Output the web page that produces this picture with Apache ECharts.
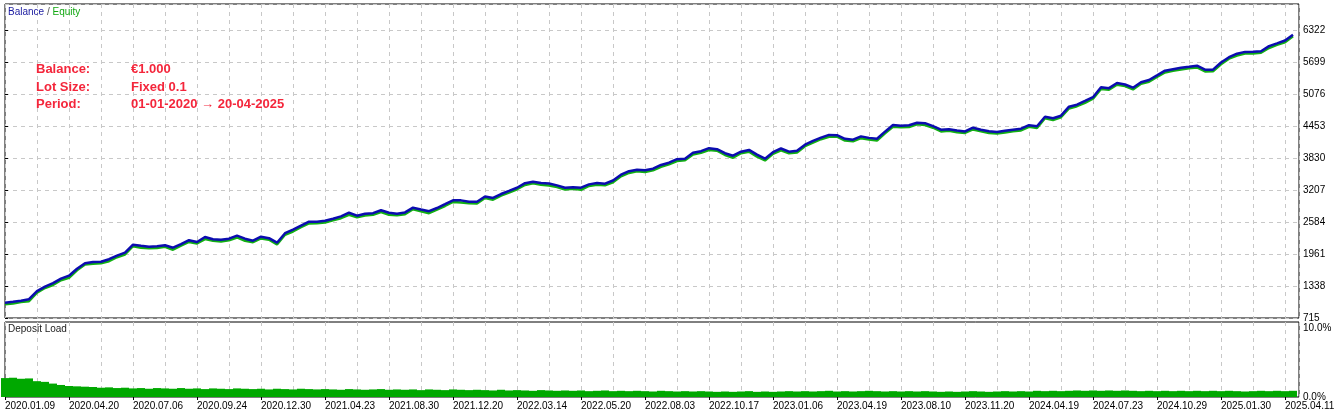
<!DOCTYPE html>
<html><head><meta charset="utf-8">
<script src="https://cdn.jsdelivr.net/npm/echarts@6/dist/echarts.min.js"></script>
<style>html,body{margin:0;padding:0;background:#fff}#c{width:1343px;height:415px}</style>
</head><body><div id="c"></div>
<script>
const dateLabels = ['2020.01.09','2020.04.20','2020.07.06','2020.09.24','2020.12.30','2021.04.23','2021.08.30','2021.12.20','2022.03.14','2022.05.20','2022.08.03','2022.10.17','2023.01.06','2023.04.19','2023.08.10','2023.11.20','2024.04.19','2024.07.23','2024.10.29','2025.01.30','2025.04.11'];

const balance = [1014,1033,1053,1082,1238,1326,1394,1482,1541,1677,
1785,1808,1814,1863,1931,1990,2146,2126,2107,2117,
2136,2087,2156,2234,2199,2296,2253,2243,2263,2322,
2263,2224,2302,2273,2185,2370,2439,2517,2595,2595,
2614,2653,2698,2770,2712,2751,2761,2819,2770,2751,
2776,2868,2833,2800,2862,2936,3011,3011,2985,2985,
3087,3059,3135,3196,3258,3346,3376,3350,3342,3303,
3258,3268,3258,3323,3350,3337,3399,3512,3581,3610,
3600,3629,3702,3746,3815,3825,3942,3971,4030,4010,
3932,3883,3961,3996,3903,3825,3951,4024,3961,3981,
4098,4172,4235,4289,4283,4213,4195,4260,4231,4215,
4352,4482,4469,4478,4527,4518,4459,4391,4400,4377,
4357,4430,4391,4361,4344,4371,4391,4410,4478,4459,
4644,4615,4664,4840,4879,4951,5025,5220,5201,5302,
5273,5211,5318,5361,5451,5542,5572,5601,5620,5640,
5562,5562,5702,5806,5874,5909,5913,5923,6021,6075,
6132,6245];

const equity = [984,998,1028,1042,1208,1301,1359,1452,1501,1647,
1760,1773,1784,1823,1901,1955,2116,2086,2077,2082,
2106,2047,2126,2199,2169,2256,2223,2208,2233,2287,
2223,2194,2267,2243,2150,2340,2404,2487,2560,2565,
2579,2623,2663,2730,2682,2716,2731,2784,2730,2721,
2741,2838,2798,2760,2832,2901,2981,2971,2955,2950,
3057,3024,3105,3161,3228,3311,3346,3315,3302,3273,
3223,3238,3218,3293,3315,3307,3364,3482,3546,3580,
3565,3599,3667,3716,3780,3795,3907,3941,3995,3980,
3897,3843,3931,3961,3863,3790,3921,3989,3931,3946,
4068,4137,4205,4254,4253,4178,4165,4225,4201,4180,
4322,4447,4439,4443,4497,4483,4429,4356,4370,4342,
4327,4395,4361,4326,4314,4336,4361,4375,4448,4424,
4614,4580,4634,4805,4849,4916,4995,5185,5171,5267,
5243,5176,5288,5326,5421,5507,5542,5566,5590,5605,
5527,5532,5667,5776,5839,5879,5878,5893,5986,6045,
6097,6215];

const depositLoad = [2.75,2.8,2.65,2.7,2.3,2.2,1.95,1.75,1.6,1.55,
1.5,1.45,1.35,1.4,1.3,1.35,1.25,1.3,1.2,1.3,
1.25,1.2,1.3,1.2,1.25,1.15,1.25,1.2,1.15,1.25,
1.2,1.15,1.2,1.1,1.2,1.15,1.1,1.2,1.15,1.1,
1.15,1.1,1.05,1.15,1.1,1.05,1.1,1.15,1.05,1.1,
1.05,1.1,1.0,1.1,1.05,1.0,1.1,1.05,1.0,1.05,
1.0,0.95,1.05,0.95,1.0,0.95,0.9,1.0,0.95,0.9,
0.95,0.9,0.95,0.85,0.9,0.95,0.85,0.9,0.85,0.9,
0.85,0.8,0.9,0.85,0.8,0.85,0.8,0.85,0.8,0.75,
0.8,0.75,0.8,0.85,0.75,0.8,0.75,0.8,0.85,0.8,
0.85,0.8,0.85,0.9,0.8,0.85,0.8,0.85,0.9,0.85,
0.8,0.85,0.8,0.85,0.8,0.85,0.8,0.75,0.8,0.75,
0.8,0.85,0.8,0.75,0.8,0.85,0.8,0.85,0.8,0.9,
0.85,0.9,0.85,0.9,0.95,0.9,0.95,0.9,0.95,0.9,
0.95,0.9,0.85,0.9,0.85,0.9,0.85,0.9,0.85,0.9,
0.85,0.9,0.85,0.9,0.85,0.8,0.85,0.9,0.85,0.9,
0.85,0.9];

const balanceTickStart = 715, balanceTickStep = 623, balanceMax = 6844;
const loadMax = 10.9, loadTickStep = 10;
const samplesPerLabel = 8, sampleMax = 161.75;

const infoLines = [['Balance:', '€1.000'], ['Lot Size:', 'Fixed 0.1'], ['Period:', '01-01-2020 → 20-04-2025']];

const FONT = '"Liberation Sans", Arial, sans-serif';
const INFO_FONT = 'bold 13px "Liberation Sans", "DejaVu Sans", sans-serif';
const dashed = { show: true, lineStyle: { color: '#c8c8c8', type: [4, 4], width: 1 } };

const chart = echarts.init(document.getElementById('c'), null, { renderer: 'canvas' });

const xCommon = {
  type: 'value', min: 0, max: sampleMax, interval: samplesPerLabel,
  splitLine: dashed,
  minorTick: { show: false, splitNumber: 2 },
  minorSplitLine: dashed,
  axisLine: { show: false }
};

const graphics = [
  { type: 'text', left: 8, top: 7, z: 10, style: {
      text: '{b|Balance} {s|/} {e|Equity}',
      font: '10px ' + FONT,
      rich: { b: { fill: '#1a1aa0', font: '10px ' + FONT }, s: { fill: '#555', font: '10px ' + FONT }, e: { fill: '#13a813', font: '10px ' + FONT } }
  }},
  { type: 'text', left: 8, top: 324, z: 10, style: { text: 'Deposit Load', font: '10px ' + FONT, fill: '#222' } }
];
infoLines.forEach((ln, i) => {
  graphics.push({ type: 'text', left: 36, top: 63 + i * 17.5, z: 10, style: { text: ln[0], font: INFO_FONT, fill: '#f4263b' } });
  graphics.push({ type: 'text', left: 131, top: 63 + i * 17.5, z: 10, style: { text: ln[1], font: INFO_FONT, fill: '#f4263b' } });
});

chart.setOption({
  animation: false,
  backgroundColor: '#fff',
  grid: [
    { left: 5, width: 1294, top: 4, height: 314, show: true, borderColor: '#000', borderWidth: 1, backgroundColor: '#fff' },
    { left: 5, width: 1294, top: 322, height: 75, show: true, borderColor: '#000', borderWidth: 1, backgroundColor: '#fff' }
  ],
  xAxis: [
    Object.assign({ gridIndex: 0, axisTick: { show: false }, axisLabel: { show: false } }, xCommon),
    Object.assign({ gridIndex: 1,
      axisTick: { show: true, length: 3, lineStyle: { color: '#000' } },
      axisLabel: { show: true, align: 'left', margin: 4, color: '#000', fontSize: 10, fontFamily: FONT,
        showMaxLabel: false,
        formatter: v => { const k = Math.round(v / samplesPerLabel); return (Math.abs(v - k * samplesPerLabel) < 1e-6 && dateLabels[k]) ? dateLabels[k] : ''; } }
    }, xCommon)
  ],
  yAxis: [
    { type: 'value', gridIndex: 0, position: 'right', min: balanceTickStart, max: balanceMax, interval: balanceTickStep,
      splitLine: dashed, axisLine: { show: false },
      axisTick: { show: true, length: 3, lineStyle: { color: '#000' } },
      axisLabel: { show: true, showMaxLabel: false, margin: 4, color: '#000', fontSize: 10, fontFamily: FONT, align: 'left',
        formatter: v => String(Math.round(v)) } },
    { type: 'value', gridIndex: 1, position: 'right', min: 0, max: loadMax, interval: loadTickStep,
      splitLine: { show: false }, axisLine: { show: false },
      axisTick: { show: false },
      axisLabel: { show: true, showMaxLabel: false, margin: 4, color: '#000', fontSize: 10, fontFamily: FONT, align: 'left',
        formatter: v => v.toFixed(1) + '%' } }
  ],
  series: [
    { type: 'line', name: 'Equity', xAxisIndex: 0, yAxisIndex: 0, showSymbol: false, silent: true,
      data: equity.map((v, i) => [i, v]), lineStyle: { color: '#12b012', width: 2.5 }, itemStyle: { color: '#12b012' }, z: 3 },
    { type: 'line', name: 'Balance', xAxisIndex: 0, yAxisIndex: 0, showSymbol: false, silent: true,
      data: balance.map((v, i) => [i, v]), lineStyle: { color: '#0c0cb0', width: 2.5 }, itemStyle: { color: '#0c0cb0' }, z: 4 },
    { type: 'bar', name: 'Deposit Load', xAxisIndex: 1, yAxisIndex: 1, silent: true, barWidth: 8, barGap: 0,
      data: depositLoad.map((v, i) => [i, v]), itemStyle: { color: '#00a800' } }
  ],
  graphic: graphics
});
</script>
</body></html>
